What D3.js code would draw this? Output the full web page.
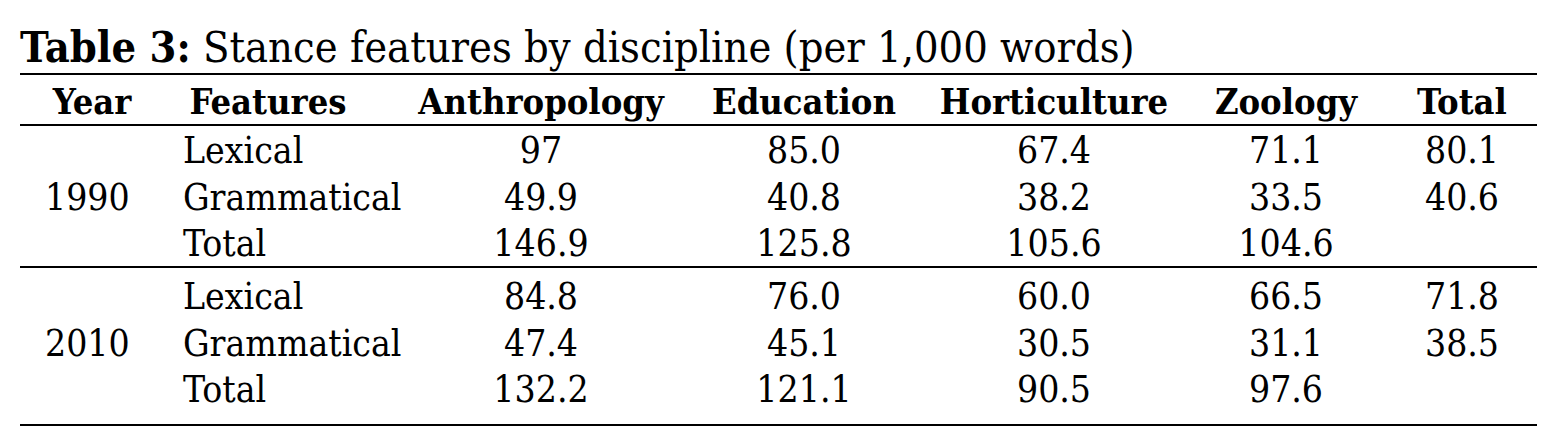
<!DOCTYPE html>
<html><head><meta charset="utf-8">
<script src="https://cdn.jsdelivr.net/npm/d3@7"></script>
<style>body{margin:0;background:#fff}</style>
</head><body><svg></svg>
<script>
const columns = ["Year", "Features", "Anthropology", "Education", "Horticulture", "Zoology", "Total"];
const years = ["1990", "2010"];
const features = ["Lexical", "Grammatical", "Total"];
const values1990 = [["97", "85.0", "67.4", "71.1", "80.1"], ["49.9", "40.8", "38.2", "33.5", "40.6"], ["146.9", "125.8", "105.6", "104.6", ""]];
const values2010 = [["84.8", "76.0", "60.0", "66.5", "71.8"], ["47.4", "45.1", "30.5", "31.1", "38.5"], ["132.2", "121.1", "90.5", "97.6", ""]];

const width = 1546, height = 433;
const font = "'DejaVu Serif Condensed', 'DejaVu Serif', serif";
const svg = d3.select("svg").attr("width", width).attr("height", height)
  .style("font-family", font).style("font-stretch", "condensed");

const colX = [92, 268, 541, 804, 1054, 1286, 1462];

const title = svg.append("text").attr("x", 20).attr("y", 62).style("font-size", "43px");
title.append("tspan").attr("font-weight", "bold").text("Table 3:");
title.append("tspan").text(" Stance features by discipline (per 1,000 words)");

const rule = (y, w) => svg.append("line").attr("x1", 20).attr("x2", 1537)
  .attr("y1", y).attr("y2", y).attr("stroke", "#000").attr("stroke-width", w);
rule(74, 2); rule(125, 2); rule(267, 2); rule(425, 2);

svg.selectAll("text.head").data(columns).enter().append("text")
  .attr("class", "head").attr("x", (d, i) => colX[i]).attr("y", 114)
  .attr("text-anchor", "middle").attr("font-weight", "bold")
  .style("font-size", "36px").text(d => d);

const rowY = d3.scaleLinear().domain([0, 1]).range([163, 209.5]);
[values1990, values2010].forEach((block, b) => {
  const off = b * 146;
  svg.append("text").attr("x", 45).attr("y", rowY(1) + off)
    .style("font-size", "37px").text(years[b]);
  block.forEach((row, r) => {
    svg.append("text").attr("x", 183).attr("y", rowY(r) + off)
      .style("font-size", "37px").text(features[r]);
    svg.selectAll(null).data(row).enter().append("text")
      .attr("x", (d, i) => colX[i + 2]).attr("y", rowY(r) + off)
      .attr("text-anchor", "middle").style("font-size", "37px").text(d => d);
  });
});
</script></body></html>
